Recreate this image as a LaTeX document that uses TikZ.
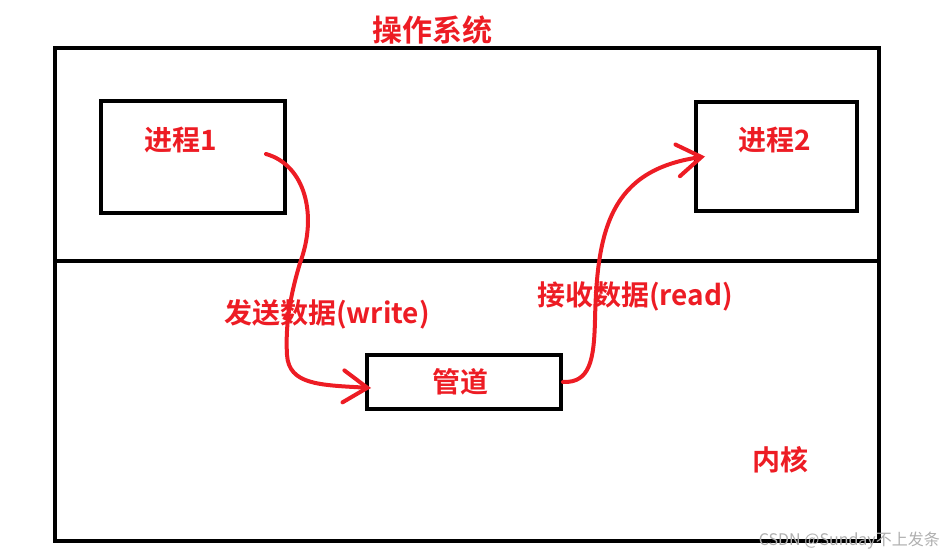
\documentclass[tikz,border=0pt]{standalone}
\usepackage{fontspec}
\setmainfont{Noto Sans CJK SC}
\newfontfamily\cjkbold{Noto Sans CJK SC Bold}
\usetikzlibrary{arrows.meta,positioning,calc}
\definecolor{redpen}{RGB}{237,28,36}
\definecolor{mark}{RGB}{175,175,175}

\begin{document}
\begin{tikzpicture}[
  x=1pt, y=-1pt,
  frame/.style={draw, line width=4pt},
  box/.style={draw, line width=4pt, inner sep=0pt},
  label/.style={text=redpen, font=\cjkbold\fontsize{28}{32}\selectfont, inner sep=0pt},
  flow/.style={draw=redpen, line width=4pt, line cap=round,
    -{Straight Barb[length=24pt, width=32pt, line cap=round]}},
]
  \useasboundingbox (0,0) rectangle (945,556);
  % operating system frame, split into user space and kernel
  \draw[frame] (55,48) rectangle (879,541);
  \draw[frame] (55,261) -- (879,261);
  \node[label, font=\cjkbold\fontsize{30}{34}\selectfont] (os) at (432,30) {操作系统};
  \node[label] (kernel) at (780,460) {内核};

  % processes and pipe
  \node[box, minimum width=184pt, minimum height=112pt] (p1) at (193,157) {};
  \node[box, minimum width=161pt, minimum height=109pt] (p2) at (776.5,156.5) {};
  \node[box, minimum width=194pt, minimum height=54pt] (pipe) at (464,382) {};
  \node[label] (pipe name) at (460,382) {管道};
  \node[label] (p1 name) at (181,140) {进程1};
  \node[label] (p2 name) at (775,140) {进程2};

  % data flow
  \coordinate (w start) at ($(p1.east)+(-21,-3)$);
  \coordinate (w end) at ($(pipe.west)+(6,6)$);
  \coordinate (r end) at ($(p2.west)+(11,0)$);
  \draw[flow] (w start) .. controls (305,165) and (318,215) .. (300,263)
    .. controls (292,290) and (285,320) .. (287,355)
    .. controls (289,385) and (320,385) .. (w end);
  \draw[flow] (pipe.east) .. controls (590,383) and (594,360) .. (595,320)
    .. controls (597,230) and (610,170) .. (r end);
  \node[label] (send) at (327,314) {发送数据(write)};
  \node[label] (recv) at (635,296) {接收数据(read)};

  \node[text=mark, font=\fontsize{16}{18}\selectfont, anchor=east, inner sep=0pt] (credit) at (940,541) {CSDN @Sunday不上发条};
\end{tikzpicture}
\end{document}
